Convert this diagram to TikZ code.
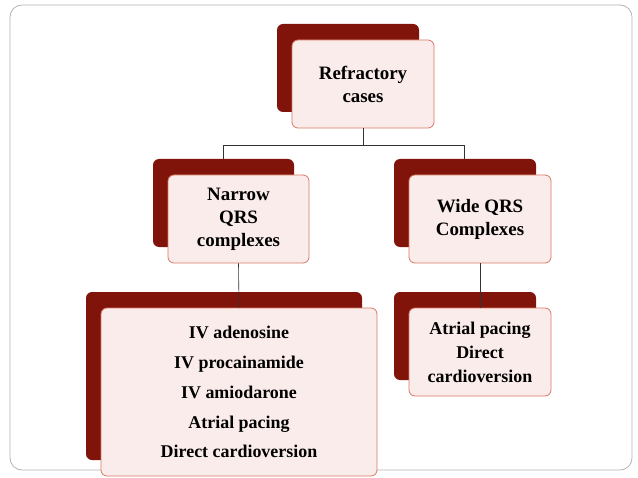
\documentclass[tikz,border=0pt]{standalone}
\usepackage{fontspec}
\setmainfont{Liberation Serif}
\usetikzlibrary{calc}
\definecolor{darkred}{RGB}{128,20,10}
\definecolor{boxfill}{RGB}{250,236,234}
\definecolor{boxline}{RGB}{214,120,100}
\tikzset{
  front/.style={draw=boxline,fill=boxfill,rounded corners=6bp,line width=0.8bp,
    align=center,font=\bfseries\fontsize{19}{23}\selectfont,inner sep=0pt},
  back/.style={fill=darkred,rounded corners=6bp},
  link/.style={draw=black!80,line width=0.6bp}
}
% back plate behind a box: name, centre x, centre y, width, height
\newcommand{\plate}[4]{\fill[back] ($(#1,#2)+(-#3/2-15,-#4/2-16)$) rectangle ($(#1,#2)+(#3/2-15,#4/2-16)$);}
\begin{document}
\begin{tikzpicture}[x=1bp,y=-1bp]
        \useasboundingbox (0,0) rectangle (638,478);
        \draw[gray!60,rounded corners=12bp,line width=0.8bp] (10,5) rectangle (632,470);
        % back plates
        \plate{363}{84}{142}{88}
        \plate{238.5}{219}{141}{88}
        \plate{480}{219}{142}{88}
        \plate{239}{392}{276}{168}
        \plate{480}{352}{142}{88}
        % boxes
        \node[front,minimum width=142bp,minimum height=88bp] (refr) at (363,84) {Refractory\\cases};
        \node[front,minimum width=141bp,minimum height=88bp] (narrow) at (238.5,219) {Narrow\\QRS\\complexes};
        \node[front,minimum width=142bp,minimum height=88bp] (wide) at (480,219) {Wide QRS\\Complexes};
        \node[front,minimum width=276bp,minimum height=168bp,
              font=\bfseries\fontsize{18}{30}\selectfont] (narrowtx) at (239,392)
              {IV adenosine\\IV procainamide\\IV amiodarone\\Atrial pacing\\Direct cardioversion};
        \node[front,minimum width=142bp,minimum height=88bp,
              font=\bfseries\fontsize{18}{24}\selectfont] (widetx) at (480,352)
              {Atrial pacing\\Direct\\cardioversion};
        % connectors
        \coordinate (split) at (363,145);
        \draw[link] (refr.south) -- (split);
        \draw[link] (223,145) -- (464,145);
        \draw[link] (223,145) -- (223,159);
        \draw[link] (464,145) -- (464,159);
        \draw[link] (narrow.south) -- (narrowtx.north);
        \draw[link] (wide.south) -- (widetx.north);
\end{tikzpicture}
\end{document}
